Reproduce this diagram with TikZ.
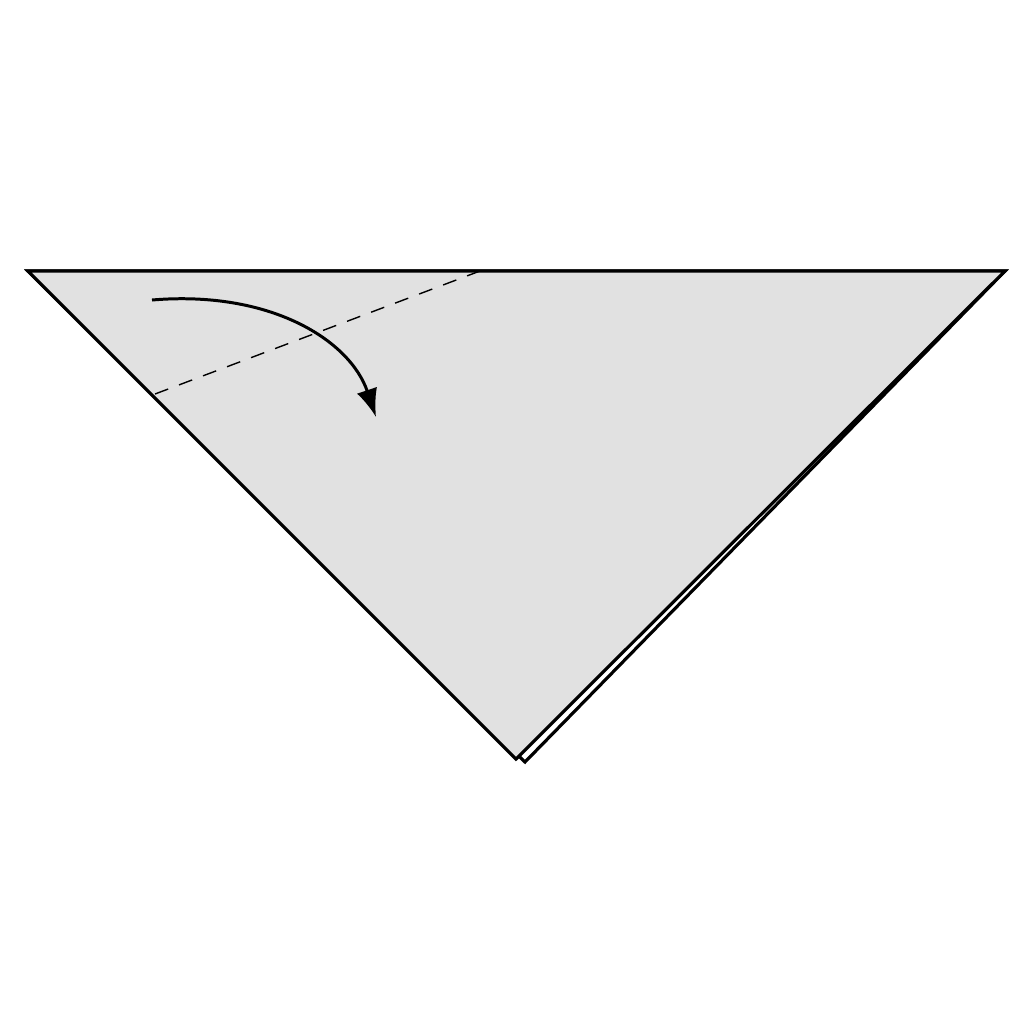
\documentclass[tikz,border=0pt]{standalone}
\usepackage{tikz}
\usetikzlibrary{arrows.meta}
\tikzset{>=latex}
\definecolor{paper}{HTML}{E1E1E1}
\tikzset{
  fold/.style={line width=0.9pt, line join=miter},
  valley/.style={dashed, dash pattern=on 4pt off 3.3pt, line width=0.4pt},
  turn/.style={-{Latex[length=8pt,width=6pt]}, line width=0.85pt}
}

\begin{document}
\begin{tikzpicture}[x=0.01cm, y=-0.01cm]
    \useasboundingbox (0,0) rectangle (1032,1032);
    % Coordinates
    \coordinate (left) at (28,271);
    \coordinate (right) at (1005,271);
    \coordinate (tip) at (516,759);
    \coordinate (backtip) at (525,762);
    \coordinate (D1) at (155,394);
    \coordinate (D2) at (480,271);
    \coordinate (A1) at (152,300);
    \coordinate (A2) at (376,417);

    % Back layer
    \draw[fold, fill=white] (left) -- (right) -- (backtip) -- cycle;
    % Front layer
    \draw[fold, fill=paper] (left) -- (right) -- (tip) -- cycle;

    % Fold line
    \draw[valley] (D1) -- (D2);

    % Arrow
    \draw[turn] (A1) .. controls (270,290) and (350,340) .. (A2);
\end{tikzpicture}
\end{document}
